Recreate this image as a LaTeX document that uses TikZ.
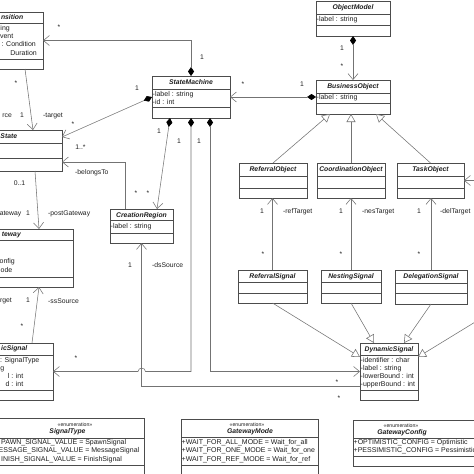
\documentclass[tikz,border=0pt]{standalone}
\usepackage{fontspec}
\setmainfont{Liberation Sans}
\usetikzlibrary{arrows.meta}
\definecolor{boxc}{gray}{0.3}
\definecolor{linec}{gray}{0.45}
\definecolor{txtc}{gray}{0.12}
\tikzset{
  clsbox/.style={rectangle, draw=boxc, line width=0.6pt, fill=white, inner sep=0pt, outer sep=0pt},
  clsline/.style={draw=boxc, line width=0.6pt},
  hdr/.style={font=\fontsize{6.8}{8}\selectfont\bfseries\itshape, inner sep=0pt, text height=5pt, text depth=1.4pt, text=txtc},
  attr/.style={font=\fontsize{7}{8}\selectfont, inner sep=0pt, anchor=west, text height=5pt, text depth=1.4pt, text=txtc},
  lbl/.style={font=\fontsize{6.8}{8}\selectfont, inner sep=0pt, text height=5pt, text depth=1.4pt, text=txtc},
  stereo/.style={font=\fontsize{5.2}{6}\selectfont, inner sep=0pt, text=txtc},
  conn/.style={draw=linec, line width=0.55pt},
  nav/.style={conn, -{Straight Barb[length=6pt,width=10pt]}},
  compnav/.style={conn, {Diamond[length=9pt,width=6pt,color=black]}-{Straight Barb[length=6pt,width=10pt]}},
  gen/.style={conn, -{Triangle[open,length=8pt,width=9pt,fill=white]}},
}
% name, left, top, right, bottom, sep1, sep2, title
\newcommand\umlcls[8]{%
  \node[clsbox, anchor=north west, minimum width={(#4)-(#2)}, minimum height={(#5)-(#3)}] (#1) at (#2,#3) {};
  \draw[clsline] (#2,#6) -- (#4,#6);
  \draw[clsline] (#2,#7) -- (#4,#7);
  \node[hdr] (#1-t) at ({((#2)+(#4))/2},{(#3)+6.3}) {#8};
}
\begin{document}
\begin{tikzpicture}[x=1pt,y=-1pt]
\useasboundingbox (0,0) rectangle (474,474);
\fill[white] (0,0) rectangle (474,474);
\clip (0,0) rectangle (474,474);

% ---------- classes ----------
\umlcls{tr}{-40}{12}{43}{69}{23}{59}{}
\node[hdr, anchor=east] (tr-h) at (23.5,17.5) {nsition};
\node[attr, anchor=east] (tr-a1) at (10,28.5) {ing};
\node[attr, anchor=east] (tr-a2) at (13.5,37) {vent};
\node[attr, anchor=east] (tr-a3) at (36,45) {: Condition};
\node[attr, anchor=east] (tr-a4) at (37,53.5) {Duration};

\umlcls{st}{-40}{130}{62}{171}{143}{158}{}
\node[hdr, anchor=west] (st-h) at (0.3,136.5) {State};

\umlcls{gw}{-40}{229}{73}{287}{240}{277}{}
\node[hdr, anchor=east] (gw-h) at (21,235) {teway};
\node[attr, anchor=east] (gw-a1) at (15,262) {onfig};
\node[attr, anchor=east] (gw-a2) at (12.5,271) {ode};

\umlcls{ld}{-40}{343}{53}{400}{355}{390}{}
\node[hdr, anchor=east] (ld-h) at (27.5,348.5) {icSignal};
\node[attr, anchor=east] (ld-a1) at (39.5,360.5) {: SignalType};
\node[attr, anchor=west] (ld-a2) at (0.3,368.5) {g};
\node[attr, anchor=east] (ld-a3) at (23.5,376.5) {l : int};
\node[attr, anchor=east] (ld-a4) at (23.5,384.5) {d : int};

\umlcls{sm}{152}{76}{230}{118}{89}{107}{StateMachine}
\node[attr] (sm-a1) at (152.5,94.5) {-label : string};
\node[attr] (sm-a2) at (152.5,102.5) {-id : int};

\umlcls{cr}{110}{209}{173}{243}{220}{233}{CreationRegion}
\node[attr] (cr-a1) at (110.5,226.5) {-label : string};

\umlcls{om}{316}{1}{390}{36}{14}{25}{ObjectModel}
\node[attr] (om-a1) at (316.5,19.5) {-label : string};

\umlcls{bo}{316}{80}{390}{114}{93}{103}{BusinessObject}
\node[attr] (bo-a1) at (316.5,98) {-label : string};

\umlcls{ro}{239}{163}{307}{198}{176}{188}{ReferralObject}
\umlcls{co}{317}{163}{385}{198}{176}{188}{CoordinationObject}
\umlcls{to}{397}{163}{464}{198}{176}{188}{TaskObject}
\umlcls{rs}{238}{270}{307}{303}{282}{293}{ReferralSignal}
\umlcls{ns}{321}{270}{381}{303}{282}{293}{NestingSignal}
\umlcls{ds}{395}{270}{467}{304}{283}{293}{DelegationSignal}

\umlcls{dyn}{360}{343}{418}{400}{355}{390}{DynamicSignal}
\node[attr] (dyn-a1) at (360.5,361) {-identifier : char};
\node[attr] (dyn-a2) at (360.5,368.5) {-label : string};
\node[attr] (dyn-a3) at (360.5,376.5) {-lowerBound : int};
\node[attr] (dyn-a4) at (360.5,384.5) {-upperBound : int};

% ---------- enumerations ----------
\umlcls{sig}{-20}{418}{144}{490}{438}{465}{}
\node[stereo] (sig-s) at (75,425) {«enumeration»};
\node[hdr] (sig-h) at (67.5,432) {SignalType};
\node[attr] (sig-a1) at (1,442.5) {PAWN\_SIGNAL\_VALUE = SpawnSignal};
\node[attr] (sig-a2) at (-1.5,451) {ESSAGE\_SIGNAL\_VALUE = MessageSignal};
\node[attr] (sig-a3) at (1,459.5) {INISH\_SIGNAL\_VALUE = FinishSignal};

\umlcls{gm}{181}{419}{318}{490}{437}{465}{}
\node[stereo] (gm-s) at (247,424.5) {«enumeration»};
\node[hdr] (gm-h) at (250,432) {GatewayMode};
\node[attr] (gm-a1) at (181.5,442.5) {+WAIT\_FOR\_ALL\_MODE = Wait\_for\_all};
\node[attr] (gm-a2) at (181.5,451) {+WAIT\_FOR\_ONE\_MODE = Wait\_for\_one};
\node[attr] (gm-a3) at (181.5,459.5) {+WAIT\_FOR\_REF\_MODE = Wait\_for\_ref};

\umlcls{gc}{353}{420}{520}{466}{438}{456}{}
\node[stereo] (gc-s) at (401,426) {«enumeration»};
\node[hdr] (gc-h) at (402,432.5) {GatewayConfig};
\node[attr] (gc-a1) at (353.5,442.5) {+OPTIMISTIC\_CONFIG = Optimistic};
\node[attr] (gc-a2) at (353.5,451) {+PESSIMISTIC\_CONFIG = Pessimistic};

% ---------- connectors ----------
\draw[compnav] (sm.north) |- (tr.east);
\draw[compnav] (om.south) -- (bo.north);
\draw[compnav] (bo.west) -- (sm.east);
\draw[compnav] (sm.west) -- ([yshift=-7pt]st.north east);
\draw[compnav] ([xshift=-21pt]sm.south) -- ([xshift=15.5pt]cr.north);
\draw[nav] ([xshift=-16.5pt]cr.north) |- ([yshift=-11.5pt]st.east);
\coordinate (hopA) at (145.5,371.5);
\coordinate (hopB) at (138,371.5);
\draw[compnav] (sm.south) |- (hopA) .. controls (145,367) and (138.5,367) .. (hopB) -- (ld.east);
\draw[compnav] ([xshift=19pt]sm.south) |- (dyn.west);
\draw[nav] ([yshift=-14.5pt]dyn.west) -| (cr.south);

\draw[nav] ([xshift=23.5pt]tr.south) -- ([xshift=22pt]st.north);
\draw[nav] ([xshift=24pt]st.south) -- ([xshift=22.5pt]gw.north);
\draw[nav] ([xshift=25.5pt]ld.north) -- ([xshift=22.5pt]gw.south);

\draw[nav] (rs.north) -- (rs.north |- ro.south);
\draw[nav] (ns.north) -- (ns.north |- co.south);
\draw[nav] (ds.north) -- (ds.north |- to.south);
\coordinate (offT) at (485,180.5);
\draw[nav] (offT) -- (to.east);

\draw[gen] (ro.north) -- ([xshift=-23pt]bo.south);
\draw[gen] (co.north) -- (co.north |- bo.south);
\draw[gen] (to.north) -- ([xshift=23pt]bo.south);
\draw[gen] (rs.south) -- ([yshift=-14pt]dyn.north west);
\draw[gen] (ns.south) -- ([xshift=14pt]dyn.north west);
\draw[gen] (ds.south) -- ([xshift=44pt]dyn.north west);
\coordinate (offD) at (485,316);
\draw[gen] (offD) -- ([yshift=-14pt]dyn.north east);

% ---------- labels ----------
\node[lbl] (m1) at (59,28) {*};
\node[lbl] (m2) at (202,58) {1};
\node[lbl] (m3) at (137,89) {1};
\node[lbl] (m4) at (73,125) {*};
\node[lbl] (m5) at (80.5,148) {1..*};
\node[lbl] (m6) at (16,84) {*};
\node[lbl, anchor=east] (m7) at (12,116) {rce};
\node[lbl] (m8) at (22,116) {1};
\node[lbl, anchor=west] (m9) at (43,116) {-target};
\node[lbl, anchor=west] (m10) at (75,173) {-belongsTo};
\node[lbl] (m11) at (136,194) {*};
\node[lbl] (m12) at (148,194) {*};
\node[lbl] (m13) at (19.5,184) {0..1};
\node[lbl, anchor=east] (m14) at (21.5,214) {ateway};
\node[lbl] (m15) at (28,214) {1};
\node[lbl, anchor=west] (m16) at (48,214) {-postGateway};
\node[lbl, anchor=east] (m17) at (12,301) {rget};
\node[lbl] (m18) at (28,301) {1};
\node[lbl, anchor=west] (m19) at (48,302) {-ssSource};
\node[lbl] (m20) at (22,327) {*};
\node[lbl] (m21) at (76,359) {*};
\node[lbl] (m22) at (159,132) {1};
\node[lbl] (m23) at (179,142) {1};
\node[lbl] (m24) at (199,142) {1};
\node[lbl] (m25) at (243,85) {*};
\node[lbl] (m26) at (302,85) {1};
\node[lbl] (m27) at (342,49) {1};
\node[lbl] (m28) at (342,67) {*};
\node[lbl] (m29) at (130,266) {1};
\node[lbl, anchor=west] (m30) at (152,266) {-dsSource};
\node[lbl] (m31) at (262,212) {1};
\node[lbl, anchor=west] (m32) at (283,212) {-refTarget};
\node[lbl] (m33) at (263,255) {*};
\node[lbl] (m34) at (341,212) {1};
\node[lbl, anchor=west] (m35) at (362,212) {-nesTarget};
\node[lbl] (m36) at (341,255) {*};
\node[lbl] (m37) at (419,212) {1};
\node[lbl, anchor=west] (m38) at (440,212) {-delTarget};
\node[lbl] (m39) at (419,255) {*};
\node[lbl] (m40) at (337,383) {*};
\node[lbl] (m41) at (339,399) {*};
\end{tikzpicture}
\end{document}
